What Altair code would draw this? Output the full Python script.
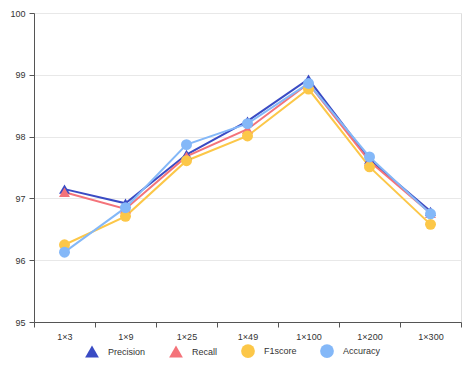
import altair as alt
import pandas as pd

categories = ["1×3", "1×9", "1×25", "1×49", "1×100", "1×200", "1×300"]
series = ["Precision", "Recall", "F1score", "Accuracy"]
precision = [97.15, 96.92, 97.71, 98.25, 98.93, 97.63, 96.79]
recall = [97.10, 96.83, 97.68, 98.12, 98.86, 97.60, 96.76]
f1score = [96.25, 96.71, 97.61, 98.01, 98.77, 97.51, 96.58]
accuracy = [96.13, 96.85, 97.87, 98.21, 98.86, 97.67, 96.75]
colors = ["#3a4bc4", "#f4737a", "#fcc748", "#84b8f8"]
shapes = ["triangle-up", "triangle-up", "circle", "circle"]

rows = []
for name, vals in zip(series, [precision, recall, f1score, accuracy]):
    for c, v in zip(categories, vals):
        rows.append({"cat": c, "series": name, "value": v})
df = pd.DataFrame(rows)

x = alt.X("cat:N", sort=categories, title=None,
          scale=alt.Scale(paddingInner=0, paddingOuter=0),
          axis=alt.Axis(labelAngle=0, tickBand="extent", labelFontSize=9,
                        labelColor="#333", domainColor="#555", tickColor="#555",
                        tickSize=5, labelPadding=5, grid=False))
y = alt.Y("value:Q", title=None,
          scale=alt.Scale(domain=[95, 100], nice=False, zero=False),
          axis=alt.Axis(values=[95, 96, 97, 98, 99, 100], format="d",
                        labelFontSize=9, labelColor="#333", domainColor="#555",
                        tickColor="#555", tickSize=5, labelPadding=4,
                        gridColor="#e8e8e8"))
color = alt.Color("series:N", sort=series,
                  scale=alt.Scale(domain=series, range=colors),
                  legend=alt.Legend(title=None, orient="none", direction="horizontal",
                                    legendX=51, legendY=331, padding=0,
                                    labelFontSize=9, labelColor="#333",
                                    symbolSize=190, columnPadding=23, labelOffset=9,
                                    symbolStrokeWidth=0, symbolOpacity=1))
shape = alt.Shape("series:N", sort=series,
                  scale=alt.Scale(domain=series, range=shapes), legend=None)

base = alt.Chart(df).encode(x=x, y=y, color=color)
lines = base.mark_line(strokeWidth=2).encode(detail="series:N")
points = base.mark_point(filled=True, opacity=1, size=120).encode(shape=shape)

chart = (lines + points).properties(
    width=427, height=309,
    autosize=alt.AutoSizeParams(type="none"),
    padding={"left": 26, "top": 5, "right": 5, "bottom": 36},
).configure_view(stroke=None).configure(font="Arial")

chart.save("out.html", embed_options={"renderer": "svg", "actions": False})
